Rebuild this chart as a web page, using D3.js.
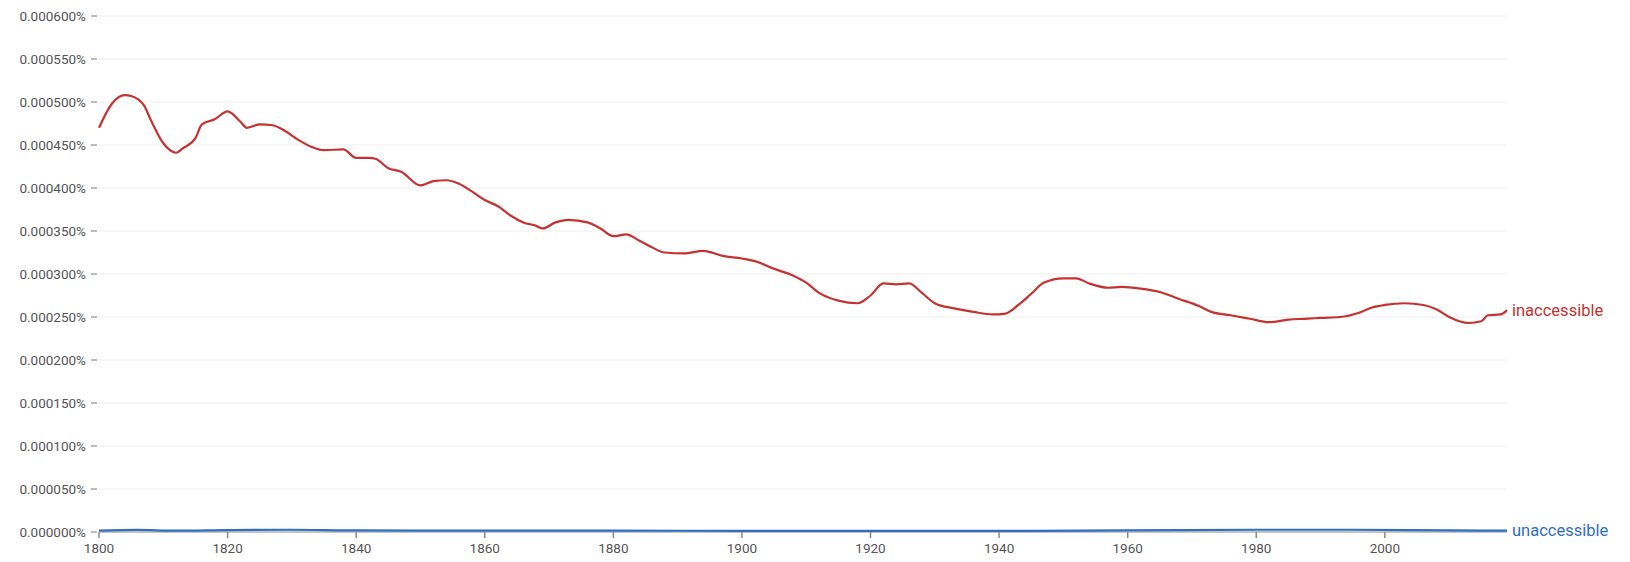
<!DOCTYPE html>
<html><head><meta charset="utf-8">
<script src="https://cdn.jsdelivr.net/npm/d3@7"></script>
<style>body{margin:0;background:#fff;font-family:Roboto,sans-serif}</style>
</head><body><div id="chart"></div>
<script>
const years = [1800,1802,1804,1805,1807,1808,1810,1812,1813,1815,1816,1818,1820,1822,1823,1825,1827,1829,1831,1833,1835,1838,1840,1842,1843,1845,1847,1850,1852,1854,1856,1858,1860,1862,1864,1866,1868,1869,1871,1873,1876,1878,1880,1882,1884,1886,1888,1891,1894,1897,1900,1902,1905,1908,1910,1912,1915,1918,1920,1922,1924,1926,1928,1930,1933,1936,1939,1941,1943,1945,1947,1950,1952,1954,1957,1959,1962,1965,1968,1971,1973,1976,1979,1982,1985,1988,1990,1993,1996,1998,2000,2003,2006,2008,2010,2013,2015,2016,2018,2019];
// values in units of 0.000001%
const inaccessible = [470,498,508,507,496,480,452,441,446,458,474,480,489,477,470,474,473,466,456,448,444,445,435,435,434,423,419,403,408,409,405,396,386,379,368,360,356,353,360,363,360,353,344,346,339,331,325,324,327,321,318,315,306,298,290,278,269,266,275,289,288,289,278,266,260,256,253,254,264,277,290,295,295,289,284,285,283,279,271,263,256,252,248,244,247,248,249,250,255,261,264,266,264,259,250,243,245,252,253,258];
const uYears = [1800,1806,1812,1820,1830,1840,1860,1880,1900,1920,1940,1960,1980,1995,2010,2019];
const unaccessible = [1.5,2.5,1.5,2.2,2.6,1.8,1.6,1.5,1.4,1.3,1.3,1.8,2.6,2.6,1.8,1.6];
const yTicks = d3.range(0, 601, 50);
const xTicks = d3.range(1800, 2001, 20);

const W = 1630, H = 562;
const margin = {left: 99, right: 123, top: 16, bottom: 30};
const svg = d3.select('#chart').append('svg').attr('width', W).attr('height', H);
const x = d3.scaleLinear().domain([1800, 2019]).range([margin.left, W - margin.right]);
const y = d3.scaleLinear().domain([0, 600]).range([H - margin.bottom, margin.top]);

// grid
svg.append('g').selectAll('line').data(yTicks.slice(1)).join('line')
  .attr('x1', margin.left).attr('x2', W - margin.right)
  .attr('y1', d => y(d)).attr('y2', d => y(d))
  .attr('stroke', '#eeeeee');

// y axis labels
const yg = svg.append('g');
yg.selectAll('text').data(yTicks).join('text')
  .attr('x', margin.left - 13).attr('y', d => y(d)).attr('dy', '0.35em')
  .attr('text-anchor', 'end').attr('font-size', '13.5px').attr('fill', '#555')
  .text(d => (d / 1e6).toFixed(6) + '%');
yg.selectAll('line').data(yTicks).join('line')
  .attr('x1', margin.left - 8).attr('x2', margin.left - 2)
  .attr('y1', d => y(d)).attr('y2', d => y(d)).attr('stroke', '#777');

// x axis
const xg = svg.append('g');
xg.append('line').attr('x1', margin.left).attr('x2', W - margin.right)
  .attr('y1', y(0)).attr('y2', y(0)).attr('stroke', '#888');
xg.selectAll('line.t').data(xTicks).join('line').attr('class', 't')
  .attr('x1', d => x(d)).attr('x2', d => x(d))
  .attr('y1', y(0)).attr('y2', y(0) + 6).attr('stroke', '#888').attr('stroke-width', 1.5);
xg.selectAll('text').data(xTicks).join('text')
  .attr('x', d => x(d)).attr('y', y(0) + 21).attr('text-anchor', 'middle')
  .attr('font-size', '13.5px').attr('fill', '#555').text(d => d);

const line = d3.line().curve(d3.curveMonotoneX);
const series = [
  {name: 'inaccessible', color: '#c5322f', pts: years.map((yr, i) => [yr, inaccessible[i]])},
  {name: 'unaccessible', color: '#2f6fbf', pts: uYears.map((yr, i) => [yr, unaccessible[i]])},
];
series.forEach(s => {
  svg.append('path')
    .attr('d', line(s.pts.map(p => [x(p[0]), y(p[1])])))
    .attr('fill', 'none').attr('stroke', s.color).attr('stroke-width', 2.2);
  const last = s.pts[s.pts.length - 1];
  svg.append('text').attr('x', x(last[0]) + 5).attr('y', y(last[1])).attr('dy', '0.35em')
    .attr('font-size', '16.5px').attr('fill', s.color).text(s.name);
});
</script></body></html>
